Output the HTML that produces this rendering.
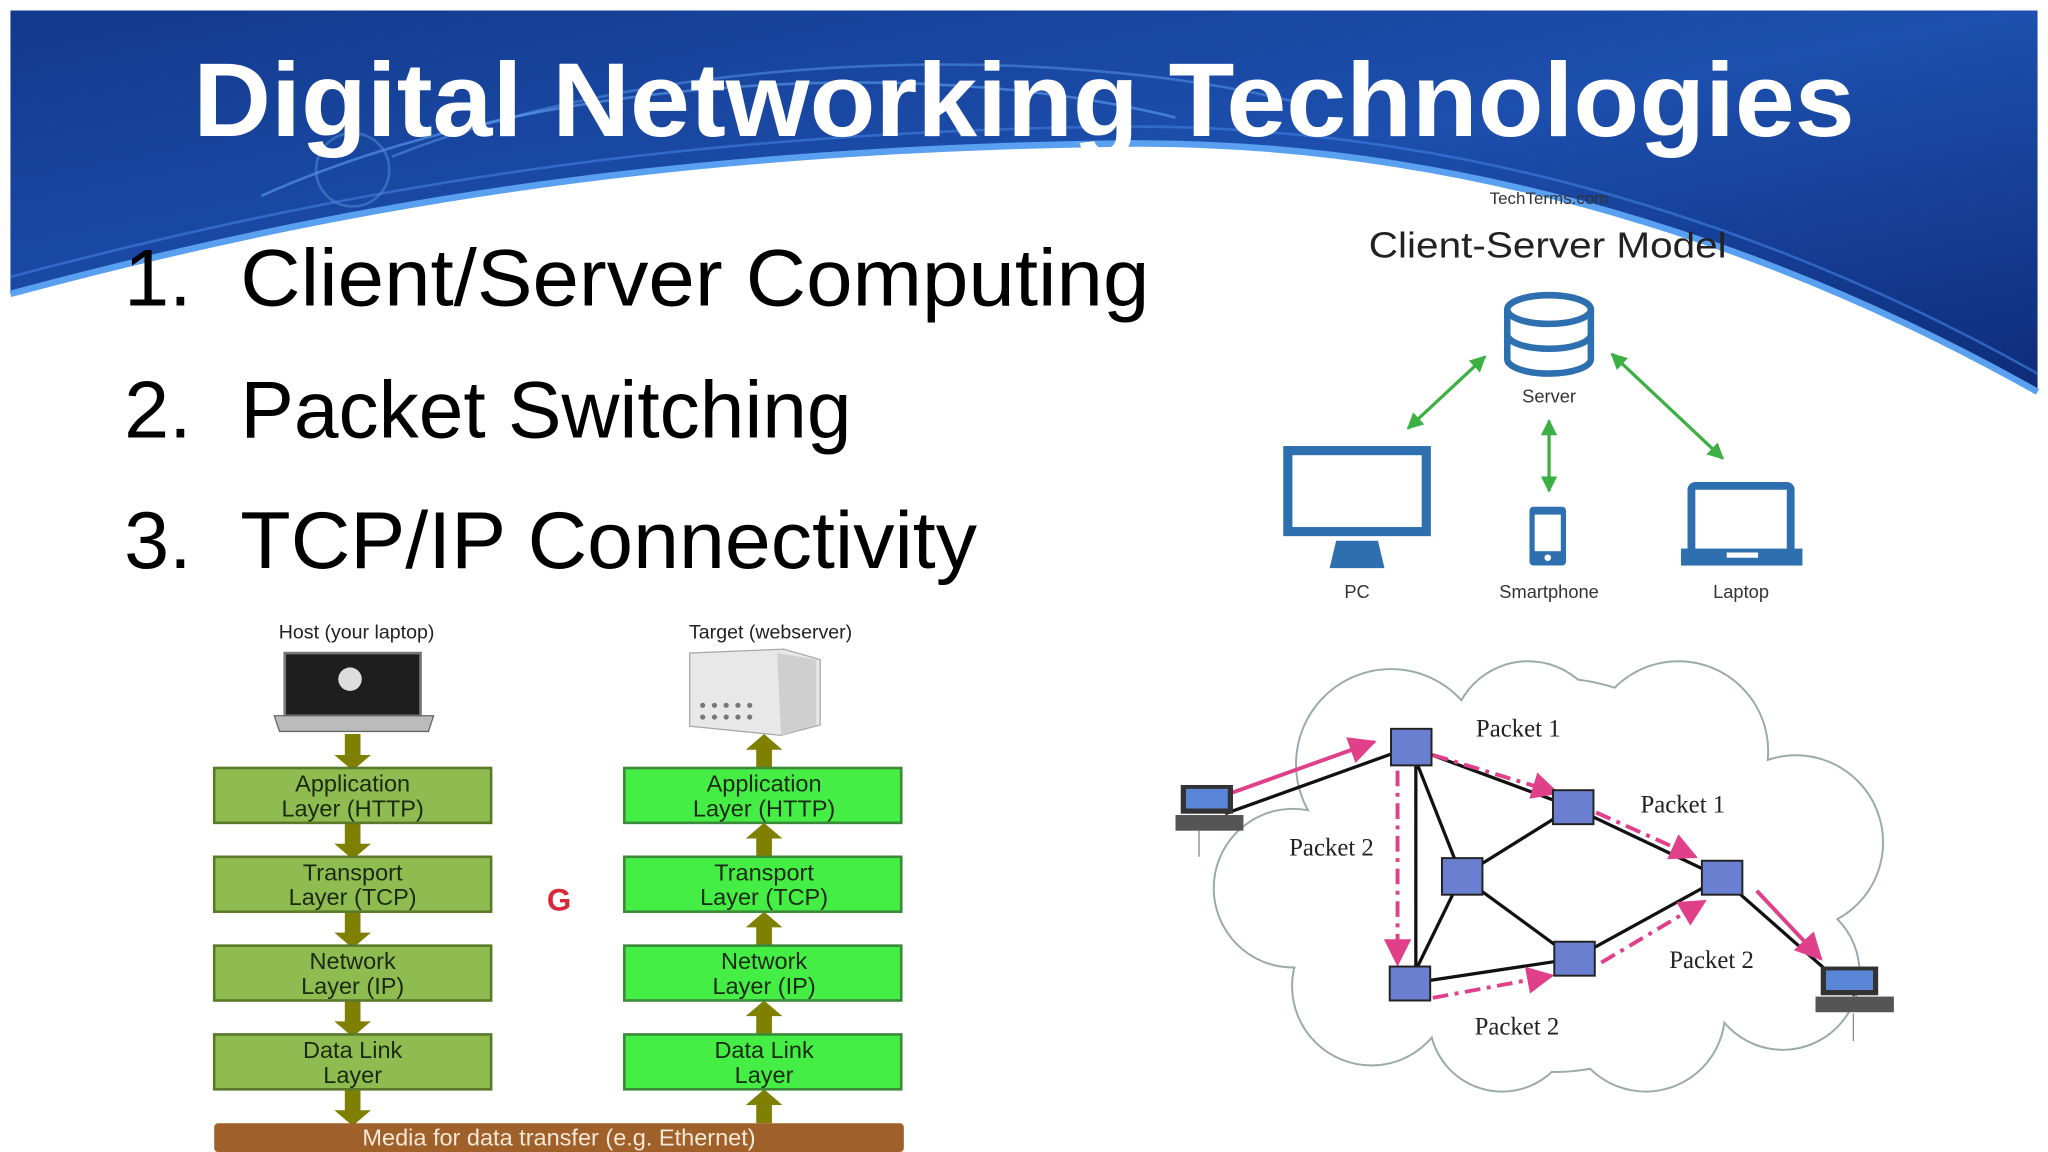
<!DOCTYPE html>
<html><head><meta charset="utf-8"><style>
html,body{margin:0;padding:0;background:#fff;}
svg{display:block;}
</style></head><body>
<svg width="2048" height="1152" viewBox="0 0 1568 882" preserveAspectRatio="none" xmlns="http://www.w3.org/2000/svg">
<defs>
<linearGradient id="bg" x1="0" y1="0" x2="1" y2="1">
<stop offset="0" stop-color="#123a8c"/><stop offset="0.5" stop-color="#1d4fae"/><stop offset="1" stop-color="#0d2c78"/>
</linearGradient>
<marker id="ga" viewBox="0 0 10 10" refX="9" refY="5" markerWidth="5" markerHeight="5" orient="auto-start-reverse"><path d="M0,0L10,5L0,10z" fill="#3cb043"/></marker>
<marker id="pa" viewBox="0 0 10 10" refX="9" refY="5" markerWidth="7" markerHeight="7" orient="auto"><path d="M0,0L10,5L0,10z" fill="#e0408a"/></marker>
</defs>
<rect width="1568" height="882" fill="#fff"/>
<path d="M8,8 L1560,8 L1560,300 C1400,210 1150,105 850,110 C500,115 250,160 8,225 Z" fill="url(#bg)"/>
<path d="M8,225 C250,160 500,115 850,110 C1150,105 1400,210 1560,300" fill="none" stroke="#5aa0f0" stroke-width="5"/>
<path d="M8,212 C250,148 500,102 850,97 C1150,93 1400,196 1560,286" fill="none" stroke="#3a78d8" stroke-width="2" opacity="0.7"/>
<path d="M200,150 C400,60 700,40 900,90" fill="none" stroke="#6ab0ff" stroke-width="2" opacity="0.5"/>
<path d="M300,120 C500,40 800,30 1000,80" fill="none" stroke="#6ab0ff" stroke-width="2" opacity="0.4"/>
<circle cx="270" cy="130" r="28" fill="none" stroke="#5a90d8" stroke-width="2" opacity="0.5"/>
<text x="784" y="104" text-anchor="middle" font-family="Liberation Sans, sans-serif" font-weight="bold" font-size="80" fill="#fff" textLength="1272" lengthAdjust="spacingAndGlyphs">Digital Networking Technologies</text>
<g font-family="Liberation Sans, sans-serif" font-size="62" fill="#000">
<text x="95" y="234">1.</text><text x="184" y="234" textLength="696" lengthAdjust="spacingAndGlyphs">Client/Server Computing</text>
<text x="95" y="335">2.</text><text x="184" y="335" textLength="468" lengthAdjust="spacingAndGlyphs">Packet Switching</text>
<text x="95" y="435">3.</text><text x="184" y="435" textLength="564" lengthAdjust="spacingAndGlyphs">TCP/IP  Connectivity</text>
</g>
<text x="1186" y="156" text-anchor="middle" font-family="Liberation Sans, sans-serif" font-size="13" fill="#333">TechTerms.com</text>
<text x="1185" y="197" text-anchor="middle" font-family="Liberation Sans, sans-serif" font-size="28" fill="#222" textLength="274" lengthAdjust="spacingAndGlyphs">Client-Server Model</text>
<g fill="none" stroke="#2e6fb0" stroke-width="5">
<ellipse cx="1186" cy="237" rx="32" ry="11"/>
<path d="M1154,237 V275 A32,11 0 0 0 1218,275 V237"/>
<path d="M1154,256 A32,11 0 0 0 1218,256"/>
</g>
<text x="1186" y="308" text-anchor="middle" font-family="Liberation Sans, sans-serif" font-size="14" fill="#333">Server</text>
<rect x="986" y="345" width="106" height="62" fill="none" stroke="#2e6fb0" stroke-width="7"/>
<path d="M1023,414 H1055 L1060,435 H1018 Z" fill="#2e6fb0"/>
<rect x="1171" y="388" width="28" height="45" rx="3" fill="#2e6fb0"/>
<rect x="1175" y="394" width="20" height="28" fill="#fff"/>
<circle cx="1185" cy="427" r="2.5" fill="#fff"/>
<rect x="1295" y="372" width="76" height="52" rx="3" fill="none" stroke="#2e6fb0" stroke-width="6"/>
<rect x="1287" y="420" width="93" height="13" fill="#2e6fb0"/>
<rect x="1322" y="423" width="24" height="4" fill="#fff"/>
<g font-family="Liberation Sans, sans-serif" font-size="14" fill="#333" text-anchor="middle">
<text x="1039" y="458">PC</text><text x="1186" y="458">Smartphone</text><text x="1333" y="458">Laptop</text>
</g>
<g stroke="#3cb043" stroke-width="2.5" marker-start="url(#ga)" marker-end="url(#ga)">
<line x1="1137" y1="273" x2="1078" y2="328"/>
<line x1="1186" y1="322" x2="1186" y2="376"/>
<line x1="1234" y1="271" x2="1319" y2="351"/>
</g>
<g font-family="Liberation Sans, sans-serif" fill="#222">
<text x="273" y="489" text-anchor="middle" font-size="15">Host (your laptop)</text>
<text x="590" y="489" text-anchor="middle" font-size="15">Target (webserver)</text>
</g>
<path d="M218,500 H322 V548 H218 Z" fill="#1e1e1e" stroke="#777" stroke-width="2"/>
<path d="M210,548 H332 L328,560 H214 Z" fill="#bbb" stroke="#666"/>
<circle cx="268" cy="520" r="9" fill="#ddd"/>
<path d="M528,500 L600,497 L628,505 V555 L598,563 L528,556 Z" fill="#e8e8e8" stroke="#aaa"/>
<path d="M595,500 L625,505 V555 L598,563 Z" fill="#cfcfcf"/>
<g fill="#777"><circle cx="538" cy="540" r="2"/><circle cx="547" cy="540" r="2"/><circle cx="556" cy="540" r="2"/><circle cx="565" cy="540" r="2"/><circle cx="574" cy="540" r="2"/><circle cx="538" cy="549" r="2"/><circle cx="547" cy="549" r="2"/><circle cx="556" cy="549" r="2"/><circle cx="565" cy="549" r="2"/><circle cx="574" cy="549" r="2"/></g>
<g fill="#7f7f00">
<path d="M264,562 H276 V578 H284 L270,590 L256,578 H264 Z"/>
<path d="M264,630 H276 V646 H284 L270,658 L256,646 H264 Z"/>
<path d="M264,698 H276 V714 H284 L270,726 L256,714 H264 Z"/>
<path d="M264,766 H276 V782 H284 L270,794 L256,782 H264 Z"/>
<path d="M264,834 H276 V850 H284 L270,862 L256,850 H264 Z"/>
<path d="M579,588 H591 V574 H599 L585,562 L571,574 H579 Z"/>
<path d="M579,656 H591 V642 H599 L585,630 L571,642 H579 Z"/>
<path d="M579,724 H591 V710 H599 L585,698 L571,710 H579 Z"/>
<path d="M579,792 H591 V778 H599 L585,766 L571,778 H579 Z"/>
<path d="M579,860 H591 V846 H599 L585,834 L571,846 H579 Z"/>
</g>
<g stroke="#5a7a2a" stroke-width="2" fill="#8fbc50">
<rect x="164" y="588" width="212" height="42"/><rect x="164" y="656" width="212" height="42"/>
<rect x="164" y="724" width="212" height="42"/><rect x="164" y="792" width="212" height="42"/>
</g>
<g stroke="#3a8a3a" stroke-width="2" fill="#44ee44">
<rect x="478" y="588" width="212" height="42"/><rect x="478" y="656" width="212" height="42"/>
<rect x="478" y="724" width="212" height="42"/><rect x="478" y="792" width="212" height="42"/>
</g>
<rect x="164" y="860" width="528" height="22" rx="3" fill="#a0602a"/>
<g font-family="Liberation Sans, sans-serif" font-size="18" fill="#1a2a10" text-anchor="middle">
<text x="270" y="606">Application</text><text x="270" y="625">Layer (HTTP)</text>
<text x="270" y="674">Transport</text><text x="270" y="693">Layer (TCP)</text>
<text x="270" y="742">Network</text><text x="270" y="761">Layer (IP)</text>
<text x="270" y="810">Data Link</text><text x="270" y="829">Layer</text>
<text x="585" y="606">Application</text><text x="585" y="625">Layer (HTTP)</text>
<text x="585" y="674">Transport</text><text x="585" y="693">Layer (TCP)</text>
<text x="585" y="742">Network</text><text x="585" y="761">Layer (IP)</text>
<text x="585" y="810">Data Link</text><text x="585" y="829">Layer</text>
<text x="428" y="877" fill="#f4e8d8">Media for data transfer (e.g. Ethernet)</text>
</g>
<text x="428" y="697" text-anchor="middle" font-family="Liberation Sans, sans-serif" font-weight="bold" font-size="24" fill="#d8283a">G</text>
<g stroke="#9aa" stroke-width="3" fill="#9aa">
<circle cx="1065" cy="585" r="72"/><circle cx="1170" cy="565" r="58"/><circle cx="1285" cy="575" r="68"/>
<circle cx="1375" cy="645" r="66"/><circle cx="1365" cy="745" r="58"/><circle cx="1260" cy="775" r="60"/>
<circle cx="1150" cy="780" r="55"/><circle cx="1050" cy="755" r="60"/><circle cx="990" cy="680" r="60"/>
<circle cx="1190" cy="670" r="150"/>
</g>
<g fill="#fff">
<circle cx="1065" cy="585" r="72"/><circle cx="1170" cy="565" r="58"/><circle cx="1285" cy="575" r="68"/>
<circle cx="1375" cy="645" r="66"/><circle cx="1365" cy="745" r="58"/><circle cx="1260" cy="775" r="60"/>
<circle cx="1150" cy="780" r="55"/><circle cx="1050" cy="755" r="60"/><circle cx="990" cy="680" r="60"/>
<circle cx="1190" cy="670" r="150"/>
</g>
<g stroke="#111" stroke-width="2.5">
<line x1="938" y1="623" x2="1080" y2="572"/>
<line x1="1080" y1="572" x2="1204" y2="618"/>
<line x1="1080" y1="572" x2="1119" y2="671"/>
<line x1="1084" y1="572" x2="1084" y2="753"/>
<line x1="1204" y1="618" x2="1119" y2="671"/>
<line x1="1204" y1="618" x2="1318" y2="672"/>
<line x1="1119" y1="671" x2="1079" y2="753"/>
<line x1="1119" y1="671" x2="1205" y2="734"/>
<line x1="1079" y1="753" x2="1205" y2="734"/>
<line x1="1205" y1="734" x2="1318" y2="672"/>
<line x1="1318" y1="672" x2="1420" y2="762"/>
</g>
<g stroke="#e0408a" stroke-width="3" fill="none">
<line x1="943" y1="607" x2="1052" y2="568" marker-end="url(#pa)"/>
<line x1="1097" y1="578" x2="1192" y2="607" stroke-dasharray="12,5,3,5" marker-end="url(#pa)"/>
<line x1="1222" y1="622" x2="1298" y2="656" stroke-dasharray="12,5,3,5" marker-end="url(#pa)"/>
<line x1="1070" y1="590" x2="1070" y2="738" stroke-dasharray="12,5,3,5" marker-end="url(#pa)"/>
<line x1="1097" y1="764" x2="1188" y2="747" stroke-dasharray="12,5,3,5" marker-end="url(#pa)"/>
<line x1="1226" y1="737" x2="1305" y2="690" stroke-dasharray="12,5,3,5" marker-end="url(#pa)"/>
<line x1="1345" y1="682" x2="1394" y2="734" marker-end="url(#pa)"/>
</g>
<g fill="#6b7fd0" stroke="#222" stroke-width="1.5">
<rect x="1065" y="558" width="31" height="28"/><rect x="1189" y="605" width="31" height="26"/>
<rect x="1104" y="657" width="31" height="28"/><rect x="1303" y="659" width="31" height="26"/>
<rect x="1190" y="721" width="31" height="26"/><rect x="1064" y="740" width="31" height="26"/>
</g>
<g>
<rect x="904" y="601" width="40" height="22" fill="#333"/><rect x="908" y="604" width="32" height="15" fill="#5a86d8"/>
<rect x="900" y="624" width="52" height="12" fill="#555"/><line x1="918" y1="636" x2="918" y2="656" stroke="#888"/>
<rect x="1394" y="740" width="44" height="22" fill="#333"/><rect x="1398" y="743" width="36" height="15" fill="#5a86d8"/>
<rect x="1390" y="763" width="60" height="12" fill="#555"/><line x1="1419" y1="776" x2="1419" y2="797" stroke="#888"/>
</g>
<g font-family="Liberation Serif, serif" font-size="19" fill="#222">
<text x="1130" y="564">Packet 1</text><text x="1256" y="622">Packet 1</text>
<text x="987" y="655">Packet 2</text><text x="1278" y="741">Packet 2</text>
<text x="1129" y="792">Packet 2</text>
</g>
</svg>
</body></html>
